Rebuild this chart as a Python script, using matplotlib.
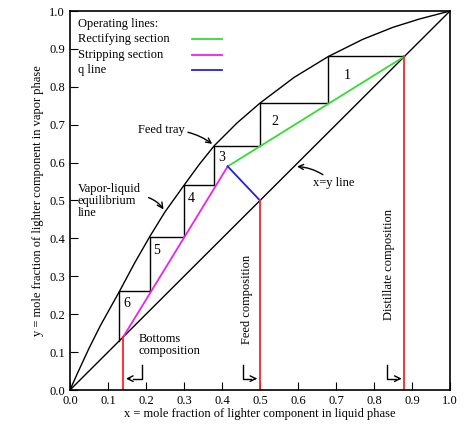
import matplotlib.pyplot as plt

plt.rcParams['font.family'] = 'Liberation Serif'

# equilibrium curve points
eq_x = [0.0, 0.02, 0.05, 0.08, 0.13, 0.17, 0.21, 0.25, 0.30, 0.34, 0.38, 0.44,
        0.50, 0.59, 0.68, 0.77, 0.85, 0.92, 1.0]
eq_y = [0.0, 0.045, 0.11, 0.17, 0.26, 0.335, 0.405, 0.47, 0.54, 0.595, 0.645, 0.705,
        0.757, 0.825, 0.88, 0.925, 0.957, 0.979, 1.0]

xD, xF, xB = 0.88, 0.50, 0.14
feed_pt = (0.415, 0.59)

# staircase corners
stair_x = [0.88, 0.68, 0.68, 0.50, 0.50, 0.38, 0.38, 0.30, 0.30, 0.21, 0.21, 0.13, 0.13]
stair_y = [0.88, 0.88, 0.757, 0.757, 0.645, 0.645, 0.54, 0.54, 0.405, 0.405, 0.26, 0.26, 0.13]
stage_labels = ['1', '2', '3', '4', '5', '6']
stage_pos = [(0.72, 0.82), (0.53, 0.70), (0.39, 0.605), (0.31, 0.495), (0.22, 0.36), (0.14, 0.22)]

fig = plt.figure(figsize=(4.74, 4.44), dpi=100)
ax = fig.add_axes([70/474, 54/444, 380/474, 379/444])

ax.plot(eq_x, eq_y, color='black', lw=1)
ax.plot([0, 1], [0, 1], color='black', lw=1)
ax.plot(stair_x, stair_y, color='black', lw=1)
ax.plot([xD, feed_pt[0]], [xD, feed_pt[1]], color='#33dd33', lw=1.3)
ax.plot([feed_pt[0], xB], [feed_pt[1], xB], color='#ee22ee', lw=1.3)
ax.plot([feed_pt[0], xF], [feed_pt[1], xF], color='#2222dd', lw=1.3)
for xv in [xB, xF, xD]:
    ax.plot([xv, xv], [0, xv], color='#ff2222', lw=1.3)

for lab, (px, py) in zip(stage_labels, stage_pos):
    ax.text(px, py, lab, fontsize=10)

# legend
fs = 9
ax.text(0.02, 0.965, 'Operating lines:', fontsize=fs, va='center')
for i, (name, col) in enumerate([('Rectifying section', '#33dd33'),
                                 ('Stripping section', '#ee22ee'),
                                 ('q line', '#2222dd')]):
    yy = 0.925 - 0.04 * i
    ax.text(0.02, yy, name, fontsize=fs, va='center')
    ax.plot([0.32, 0.40], [yy, yy], color=col, lw=1.3)

arr = dict(arrowstyle='->', color='black', lw=1)
ax.annotate('Feed tray', xy=(0.38, 0.645), xytext=(0.18, 0.685), fontsize=fs,
            va='center', arrowprops=dict(arr, connectionstyle='arc3,rad=-0.2',
                                         shrinkA=30))
ax.text(0.02, 0.50, 'Vapor-liquid\nequilibrium\nline', fontsize=fs, va='center',
        linespacing=1.0)
ax.annotate('', xy=(0.25, 0.47), xytext=(0.20, 0.51),
            arrowprops=dict(arr, connectionstyle='arc3,rad=-0.2'))
ax.annotate('x=y line', xy=(0.59, 0.59), xytext=(0.64, 0.545), fontsize=fs,
            va='center', arrowprops=dict(arr, connectionstyle='arc3,rad=0.2',
                                         shrinkA=22))

ax.text(0.18, 0.12, 'Bottoms\ncomposition', fontsize=fs, va='center', linespacing=1.0)
ax.text(0.465, 0.24, 'Feed composition', fontsize=fs, rotation=90, ha='center', va='center')
ax.text(0.84, 0.33, 'Distillate composition', fontsize=fs, rotation=90, ha='center', va='center')
for x0, x1, top in [(0.19, xB, 0.065), (0.455, xF, 0.065), (0.835, xD, 0.065)]:
    ax.plot([x0, x0, (x0 + x1) / 2], [top, 0.03, 0.03], color='black', lw=1)
    ax.annotate('', xy=(x1, 0.03), xytext=((x0 + x1) / 2, 0.03), arrowprops=arr)

ticks = [i / 10 for i in range(11)]
ax.set_xticks(ticks)
ax.set_yticks(ticks)
ax.set_xticklabels([f'{t:.1f}' for t in ticks], fontsize=fs)
ax.set_yticklabels([f'{t:.1f}' for t in ticks], fontsize=fs)
ax.tick_params(direction='in', length=6)
ax.set_xlim(0, 1)
ax.set_ylim(0, 1)
ax.set_xlabel('x = mole fraction of lighter component in liquid phase', fontsize=fs, labelpad=1)
ax.set_ylabel('y = mole fraction of lighter component in vapor phase', fontsize=fs, labelpad=4)
for s in ax.spines.values():
    s.set_linewidth(1.2)

fig.savefig('out.png', dpi=100)
